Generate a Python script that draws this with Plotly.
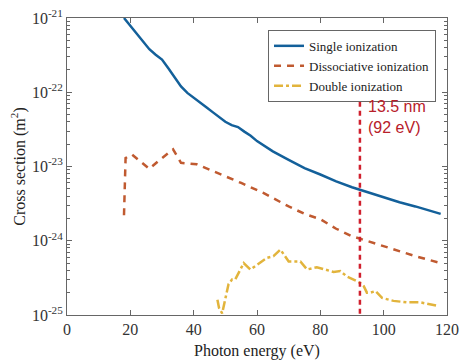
import math
import plotly.graph_objects as go

# Single ionization
single_x = [18, 20, 22, 24, 26, 28, 30, 32, 34, 36, 38, 40, 42, 44, 46, 48, 50, 52, 54, 56, 58, 60,
            65, 70, 75, 80, 85, 90, 95, 100, 105, 110, 115, 118]
single_y = [1.0e-21, 7.9e-22, 6.2e-22, 4.9e-22, 3.8e-22, 3.2e-22, 2.75e-22, 2.1e-22, 1.58e-22, 1.2e-22,
            9.8e-23, 8.5e-23, 7.4e-23, 6.3e-23, 5.4e-23, 4.7e-23, 4.0e-23, 3.6e-23, 3.4e-23, 2.95e-23,
            2.6e-23, 2.2e-23, 1.6e-23, 1.23e-23, 9.5e-24, 7.8e-24, 6.3e-24, 5.25e-24, 4.5e-24, 3.9e-24,
            3.3e-24, 2.9e-24, 2.5e-24, 2.3e-24]

# Dissociative ionization
dissoc_x = [18, 18.5, 20.5, 23, 26, 29, 33.5, 36, 41, 46, 51, 55, 62, 70, 75, 80, 85, 90, 93, 100, 105, 110, 118]
dissoc_y = [2.2e-24, 1.3e-23, 1.45e-23, 1.2e-23, 9.3e-24, 1.2e-23, 1.7e-23, 1.12e-23, 1.07e-23, 8.7e-24,
            7.1e-24, 6.0e-24, 4.4e-24, 2.9e-24, 2.3e-24, 1.95e-24, 1.45e-24, 1.15e-24, 1.05e-24, 8.5e-25,
            7.2e-25, 6.2e-25, 5.0e-25]

# Double ionization
double_x = [47.5, 48.0, 49.0, 51.0, 52.1, 53.1, 55.8, 57.9, 63.2, 65.2, 67.4, 70.0, 73.7, 75.8, 78.9,
            82.6, 84.2, 86.3, 88.4, 90.5, 92.6, 93.7, 94.7, 95.8, 97.4, 99.5, 103.1, 107.4, 111.6, 117.3]
double_y = [1.6e-25, 1.25e-25, 1.05e-25, 2.6e-25, 3.0e-25, 3.0e-25, 5.0e-25, 4.1e-25, 5.9e-25, 6.2e-25,
            7.6e-25, 5.25e-25, 5.25e-25, 4.1e-25, 4.4e-25, 4.0e-25, 3.8e-25, 3.9e-25, 3.3e-25, 3.0e-25,
            2.7e-25, 2.45e-25, 2.0e-25, 2.0e-25, 2.1e-25, 1.7e-25, 1.55e-25, 1.48e-25, 1.48e-25, 1.32e-25]

# EUV marker
euv_energy = 92.5
euv_y = [1.3e-22, 1e-25]
euv_label = "13.5 nm<br>(92 eV)"
euv_label_y = 4.6e-23

x_ticks = [0, 20, 40, 60, 80, 100, 120]
y_exponents = [-25, -24, -23, -22, -21]
y_ticks = [10.0 ** e for e in y_exponents]
y_ticktext = ["10<sup>%d</sup>" % e for e in y_exponents]
y_minor = [m * 10.0 ** e for e in y_exponents[:-1] for m in range(2, 10)]

x_title = "Photon energy (eV)"
y_title = "Cross section (m<sup>2</sup>)"

serif = "Liberation Serif, Times New Roman, serif"

fig = go.Figure()
fig.add_trace(go.Scatter(x=single_x, y=single_y, mode="lines", name="Single ionization",
                         line=dict(color="#13609a", width=2.5)))
fig.add_trace(go.Scatter(x=dissoc_x, y=dissoc_y, mode="lines", name="Dissociative ionization",
                         line=dict(color="#c05a30", width=2.5, dash="7px,6px")))
fig.add_trace(go.Scatter(x=double_x, y=double_y, mode="lines", name="Double ionization",
                         line=dict(color="#e2b43c", width=2.5, dash="dashdot")))
fig.add_trace(go.Scatter(x=[euv_energy, euv_energy], y=euv_y, mode="lines", showlegend=False,
                         line=dict(color="#d0202e", width=2.5, dash="5px,4px")))

fig.add_annotation(x=euv_energy, y=math.log10(euv_label_y), yref="y", xref="x", text=euv_label,
                   showarrow=False, xanchor="left", yanchor="middle", xshift=6, align="left",
                   font=dict(family="Liberation Sans, Arial, sans-serif", size=16, color="#b8202a"))

fig.add_annotation(x=0.5, y=0, xref="paper", yref="paper", text=x_title, showarrow=False,
                   xanchor="center", yanchor="top", yshift=-25,
                   font=dict(family=serif, size=16, color="#222222"))

axis_common = dict(showline=True, linecolor="#666666", linewidth=1, mirror="allticks",
                   ticks="inside", ticklen=5, tickcolor="#666666", showgrid=False, zeroline=False,
                   automargin=False, ticklabeloverflow="allow",
                   tickfont=dict(family=serif, size=16, color="#333333"))

fig.update_xaxes(range=[0, 120], tickvals=x_ticks, **axis_common)
fig.update_yaxes(type="log", range=[-25, -21], tickvals=y_ticks, ticktext=y_ticktext,
                 minor=dict(tickvals=y_minor, ticks="inside", ticklen=3, tickcolor="#666666"),
                 title=dict(text=y_title, font=dict(family=serif, size=16, color="#222222"),
                            standoff=9),
                 **axis_common)

fig.update_layout(
    width=466, height=353,
    margin=dict(l=59, r=27, t=10, b=46),
    paper_bgcolor="white", plot_bgcolor="white",
    legend=dict(x=0.529, y=0.96, xanchor="left", yanchor="top", bgcolor="white",
                bordercolor="#666666", borderwidth=1,
                font=dict(family=serif, size=13, color="#222222"),
                tracegroupgap=0, itemwidth=30),
    showlegend=True,
)

fig.write_html("out.html")
